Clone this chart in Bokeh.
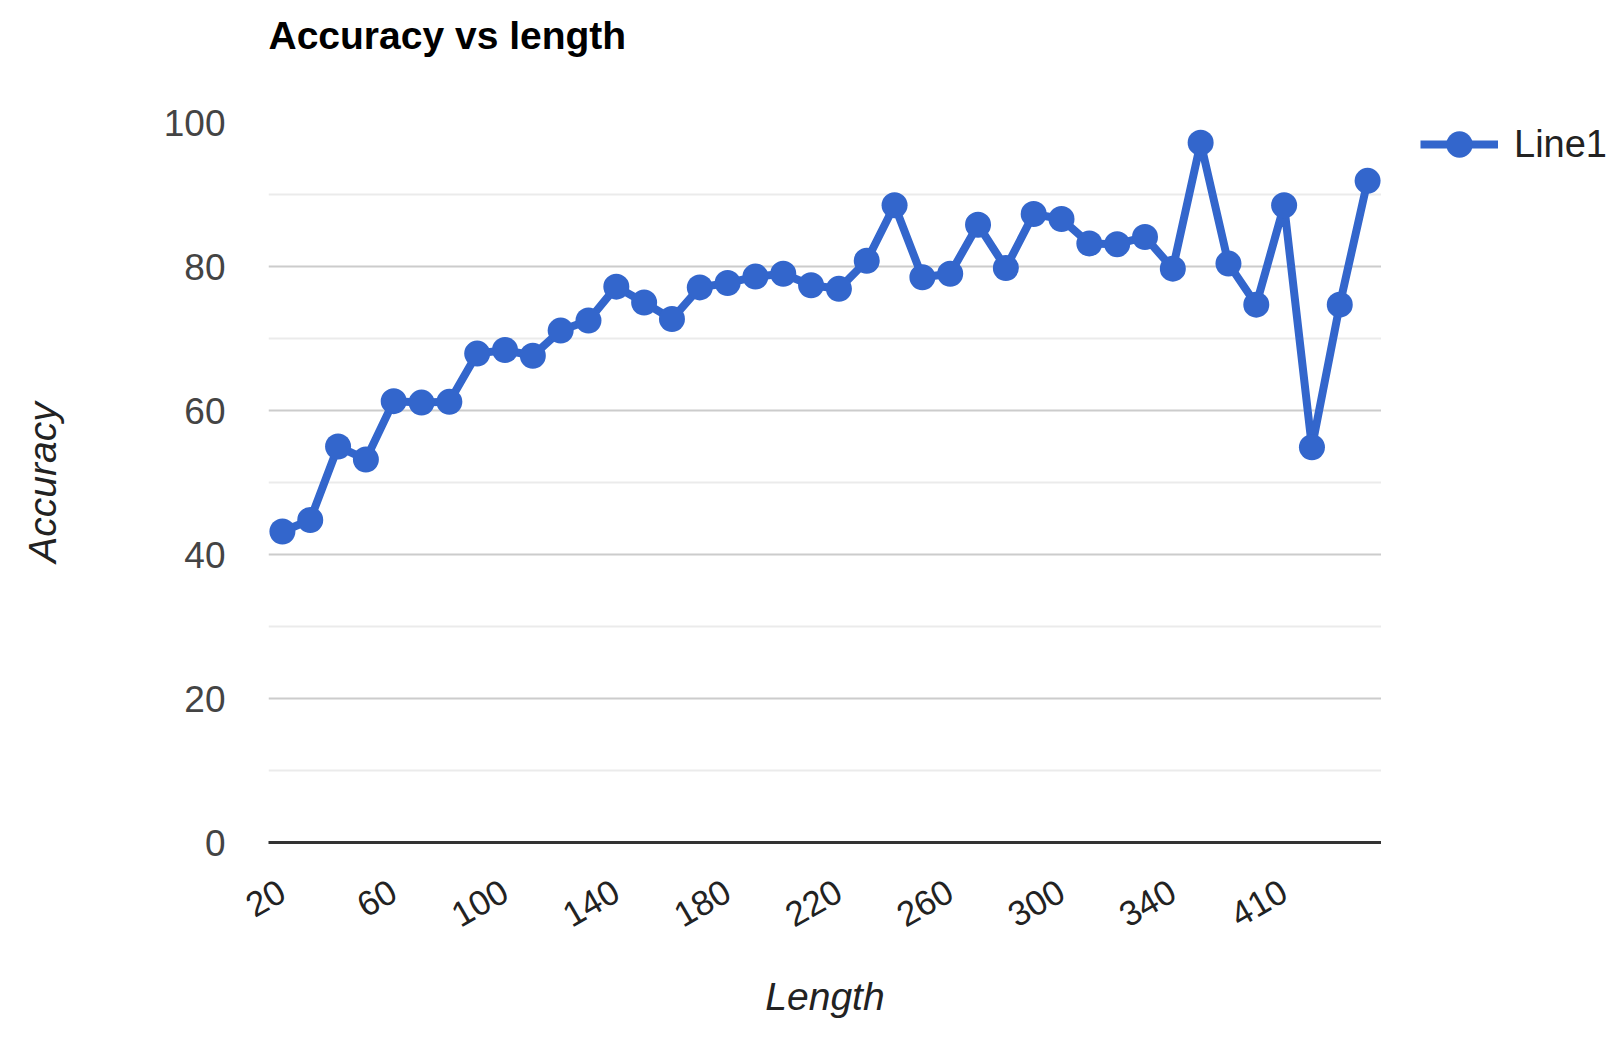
import math
import numpy as np
from bokeh.plotting import figure
from bokeh.layouts import row
from bokeh.models import (FixedTicker, Legend, LegendItem, ColumnDataSource, Range1d, Title)
from bokeh.embed import file_html
from bokeh.resources import INLINE

# ---- data ----
lengths = ["20", "30", "40", "50", "60", "70", "80", "90", "100", "110",
           "120", "130", "140", "150", "160", "170", "180", "190", "200", "210",
           "220", "230", "240", "250", "260", "270", "280", "290", "300", "310",
           "320", "330", "340", "350", "370", "390", "410", "420", "440", "460"]
accuracy = [43.2, 44.8, 55.0, 53.2, 61.3, 61.1, 61.2, 67.9, 68.4, 67.6,
            71.1, 72.5, 77.2, 75.0, 72.7, 77.1, 77.7, 78.6, 79.0, 77.4,
            76.9, 80.8, 88.5, 78.5, 79.0, 85.8, 79.8, 87.3, 86.6, 83.2,
            83.1, 84.1, 79.7, 97.2, 80.4, 74.7, 88.5, 54.9, 74.7, 91.9]
series_name = "Line1"
labeled_every = 4
y_ticks = [0, 20, 40, 60, 80, 100]
y_minor = [10, 30, 50, 70, 90]

n = len(lengths)
idx = list(range(n))
src = ColumnDataSource(data=dict(x=idx, y=accuracy, length=lengths))

FONT = "Liberation Sans"
BLUE = "#3366cc"
LINE_W = 8
DOT = 26

# ---- main chart ----
p = figure(width=1381, height=1040, output_backend="svg", toolbar_location=None,
           x_range=Range1d(-0.5, n - 0.5), y_range=Range1d(0, 100),
           min_border_left=268, min_border_right=0, min_border_top=122,
           min_border_bottom=198, title_location=None)
p.outline_line_color = None
p.background_fill_color = "white"

spacer = Title(text=" ", text_font=FONT, text_font_size="40px", standoff=20)
p.add_layout(spacer, "above")
title = Title(text="Accuracy vs length", text_font=FONT, text_font_size="39px",
              text_font_style="bold", text_color="#000000", align="left",
              standoff=0, vertical_align="bottom")
p.add_layout(title, "above")

p.line("x", "y", source=src, line_color=BLUE, line_width=LINE_W, line_join="round")
p.scatter("x", "y", source=src, size=DOT, fill_color=BLUE, line_color=None)

# x axis
tick_pos = idx[::labeled_every]
p.xaxis.ticker = FixedTicker(ticks=tick_pos)
p.xaxis.major_label_overrides = {i: lengths[i] for i in tick_pos}
p.xaxis.major_label_orientation = math.pi / 6
p.xaxis.major_label_text_font = FONT
p.xaxis.major_label_text_font_size = "35px"
p.xaxis.major_label_text_color = "#222222"
p.xaxis.major_label_standoff = 40
p.xaxis.major_tick_line_color = None
p.xaxis.minor_tick_line_color = None
p.xaxis.axis_line_color = "#333333"
p.xaxis.axis_line_width = 3
p.xaxis.axis_label = "Length"
p.xaxis.axis_label_text_font = FONT
p.xaxis.axis_label_text_font_size = "39px"
p.xaxis.axis_label_text_font_style = "italic"
p.xaxis.axis_label_text_color = "#222222"
p.xaxis.axis_label_standoff = 34
p.xgrid.grid_line_color = None

# y axis
p.yaxis.ticker = FixedTicker(ticks=y_ticks, minor_ticks=y_minor)
p.yaxis.major_label_text_font = FONT
p.yaxis.major_label_text_font_size = "37px"
p.yaxis.major_label_text_color = "#444444"
p.yaxis.major_label_standoff = 37
p.yaxis.major_tick_line_color = None
p.yaxis.minor_tick_line_color = None
p.yaxis.axis_line_color = None
p.yaxis.axis_label = "Accuracy"
p.yaxis.axis_label_text_font = FONT
p.yaxis.axis_label_text_font_size = "39px"
p.yaxis.axis_label_text_font_style = "italic"
p.yaxis.axis_label_text_color = "#222222"
p.yaxis.axis_label_standoff = 97
p.ygrid.grid_line_color = "#cccccc"
p.ygrid.grid_line_width = 2
p.ygrid.minor_grid_line_color = "#ebebeb"
p.ygrid.minor_grid_line_width = 2

# ---- legend column (right of the chart) ----
q = figure(width=240, height=1040, output_backend="svg", toolbar_location=None,
           x_range=Range1d(0, 1), y_range=Range1d(0, 1),
           x_axis_location=None, y_axis_location=None, title_location=None,
           min_border_left=0, min_border_top=122, min_border_right=0,
           min_border_bottom=198)
q.outline_line_color = None
q.grid.grid_line_color = None
key_src = ColumnDataSource(data=dict(x=np.array([np.nan]), y=np.array([np.nan])))
key_line = q.line("x", "y", source=key_src, line_color=BLUE, line_width=LINE_W)
key_dot = q.scatter("x", "y", source=key_src, size=DOT, fill_color=BLUE, line_color=None)
legend = Legend(items=[LegendItem(label=series_name, renderers=[key_line, key_dot])],
                location=(39, 665), glyph_width=78, glyph_height=66,
                label_standoff=16, padding=0, margin=0, spacing=0,
                label_text_font=FONT, label_text_font_size="38px",
                label_text_color="#222222", background_fill_alpha=0,
                border_line_alpha=0)
q.add_layout(legend, "center")

layout = row(p, q)
open("out.html", "w").write(file_html(layout, INLINE))
